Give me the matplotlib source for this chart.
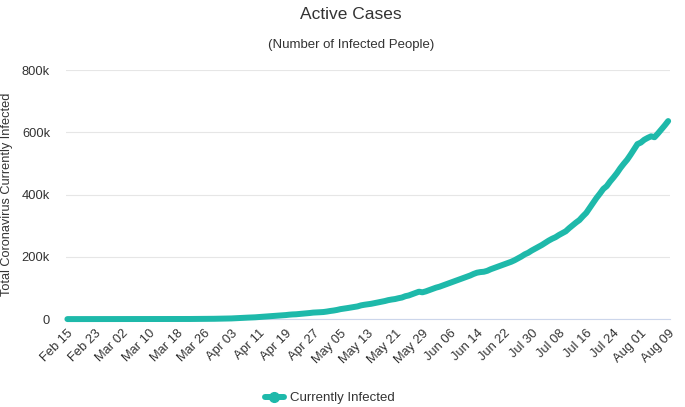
import matplotlib.pyplot as plt
from matplotlib.lines import Line2D
import datetime as dt

plt.rcParams['font.family'] = ['Liberation Sans', 'DejaVu Sans']

start = dt.date(2020, 2, 15)

# daily active cases, Feb 15 .. Aug 09
feb = [3, 3, 3, 3, 3, 3, 0, 0, 0, 0, 0, 0, 0, 0, 0]
mar = [0, 2, 3, 25, 26, 28, 31, 36, 41, 50, 56, 62, 74, 86, 94, 102, 121,
       139, 172, 216, 284, 346, 396, 434, 519, 606, 696, 860, 979, 1117, 1238]
apr = [1440, 1860, 2070, 2650, 3030, 3660, 4290, 4790, 5095, 5700, 6570,
       7190, 7990, 8900, 9750, 10480, 11220, 12050, 12930, 14170, 15000,
       15470, 16450, 17600, 18670, 19520, 20840, 21280, 22020, 22690]
may = [24160, 26030, 27510, 29450, 31970, 33550, 35290, 37200, 39090, 40720,
       44030, 46010, 47500, 49110, 51380, 53350, 55880, 57970, 60850, 62840,
       64400, 67060, 69240, 73470, 75910, 80000, 84000, 88000, 86000, 89000,
       93000]
jun = [97000, 101000, 104000, 108000, 112000, 116000, 120000, 124000, 128000,
       132000, 136000, 140000, 145000, 149000, 151000, 152000, 155000, 160000,
       164000, 168000, 172000, 176000, 180000, 184000, 189000, 195000, 201000,
       208000, 213000, 220000]
jul = [226000, 232000, 238000, 245000, 252000, 258000, 263000, 270000, 276000,
       282000, 292000, 301000, 310000, 318000, 330000, 341000, 357000, 373000,
       389000, 403000, 418000, 427000, 442000, 455000, 469000, 485000, 499000,
       512000, 528000, 545000, 562000]
aug = [567000, 576000, 582000, 587000, 584000, 596000, 609000, 622000, 636000]

active = feb + mar + apr + may + jun + jul + aug
dates = [start + dt.timedelta(days=i) for i in range(len(active))]
labels = [d.strftime('%b %d') for d in dates]
labels[136] = 'Jul 30'  # printed this way on the chart

teal = '#1eb9aa'

fig = plt.figure(figsize=(6.85, 4.07), dpi=100)
ax = fig.add_axes([0.0964, 0.216, 0.882, 0.612])

x = list(range(len(active)))
ax.plot(x, active, color=teal, linewidth=4.3, solid_capstyle='round',
        solid_joinstyle='round', clip_on=False, zorder=3)

ax.set_xlim(-0.4, len(active) - 0.4)
ax.set_ylim(0, 800000)
ax.set_yticks([0, 200000, 400000, 600000, 800000])
ax.set_yticklabels(['0', '200k', '400k', '600k', '800k'], fontsize=9.3, color='#333333')
ticks = x[::8]
ax.set_xticks(ticks)
ax.set_xticklabels([labels[i] for i in ticks], rotation=45, ha='right',
                   rotation_mode='anchor', fontsize=9.3, color='#333333')
ax.tick_params(axis='both', length=0)
ax.tick_params(axis='y', pad=11.5)
ax.tick_params(axis='x', pad=6)

ax.grid(axis='y', color='#e6e6e6', linewidth=0.8)
ax.set_axisbelow(True)
for s in ['top', 'right', 'left']:
    ax.spines[s].set_visible(False)
ax.spines['bottom'].set_color('#ccd6eb')
ax.spines['bottom'].set_linewidth(0.8)

ax.set_ylabel('Total Coronavirus Currently Infected', fontsize=9.2, color='#333333')
ax.yaxis.set_label_coords(-0.088, 0.5)

fig.text(0.512, 0.965, 'Active Cases', ha='center', va='center', fontsize=12.5, color='#333333')
fig.text(0.512, 0.89, '(Number of Infected People)', ha='center', va='center', fontsize=9.5, color='#333333')

handle = Line2D([], [], color=teal, linewidth=4.3, marker='o', markersize=7,
                solid_capstyle='round')
fig.legend([handle], ['Currently Infected'], loc='center', bbox_to_anchor=(0.482, 0.022),
           frameon=False, fontsize=9.5, handlelength=1.4, handletextpad=0.5,
           labelcolor='#333333')

fig.savefig('out.png', dpi=100)
